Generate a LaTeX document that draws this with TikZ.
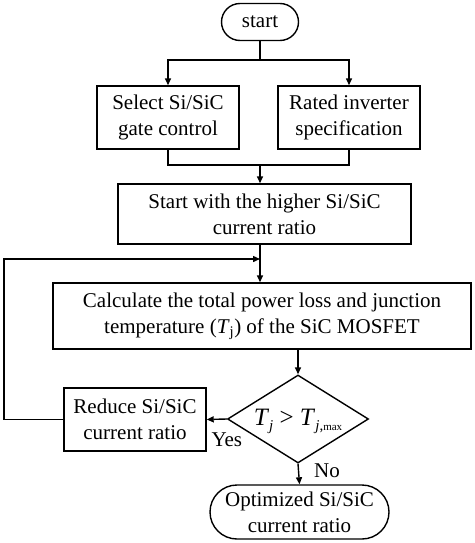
\documentclass[tikz,border=0pt]{standalone}
\usepackage{fontspec}
\setmainfont{Liberation Serif}
\usetikzlibrary{arrows.meta,shapes.geometric,shapes.misc}
\newcommand{\lowidx}[1]{\raisebox{-5pt}{\fontsize{15}{15}\selectfont #1}}
\begin{document}
\begin{tikzpicture}[x=1pt,y=-1pt,line width=1.4pt,>={Triangle[length=7pt,width=6pt]},
  every node/.style={font=\fontsize{21}{26}\selectfont,align=center,inner sep=1pt},
  procbox/.style={draw,rectangle,minimum width=#1},
  termbox/.style={draw,rounded rectangle,minimum width=#1}]
  \path[use as bounding box] (0,0) rectangle (474,543);
  \node[termbox=79,minimum height=37] (start) at (260,22) {start};
  \node[procbox=142,minimum height=63] (sel) at (168,117.5) {Select Si/SiC\\gate control};
  \node[procbox=142,minimum height=63] (rated) at (349,117.5) {Rated inverter\\specification};
  \node[procbox=293,minimum height=60] (higher) at (264.5,214) {Start with the higher Si/SiC\\current ratio};
  \node[procbox=418,minimum height=66] (calc) at (262,316)
    {Calculate the total power loss and junction\\temperature (\textit{T}\textsubscript{j}) of the SiC MOSFET};
  \node[draw,diamond,minimum width=141,minimum height=88,inner sep=0pt] (dec) at (298,419)
    [label={[font=\fontsize{25}{30}\selectfont,yshift=-2pt]center:\textit{T}\lowidx{\textit{j}} > \textit{T}\lowidx{\textit{j},{\fontsize{11}{11}\selectfont max}}}] {};
  \node[procbox=142,minimum height=63] (red) at (135,419.5) {Reduce Si/SiC\\current ratio};
  \node[termbox=181,minimum height=54] (opt) at (299.5,512) {Optimized Si/SiC\\current ratio};
  \coordinate (split) at (260,60);
  \coordinate (join) at (260,165);
  \coordinate (merge) at (260,259);
  \coordinate (back) at (4,419.5);
  \draw (start.south) -- (split);
  \draw[->] (split) -| (sel.north);
  \draw[->] (split) -| (rated.north);
  \draw (sel.south) |- (join) -| (rated.south);
  \draw[->] (join) -- (join |- higher.north);
  \draw[->] (join |- higher.south) -- (join |- calc.north);
  \draw[->] (red.west) -- (back) |- (merge);
  \draw[->] (dec |- calc.south) -- (dec.north);
  \draw[->] (dec.west) -- (red.east) node[pos=0,below=12pt] {Yes};
  \draw[->] (dec.south) -- (opt.north) node[pos=.35,right=14pt] {No};
\end{tikzpicture}
\end{document}
